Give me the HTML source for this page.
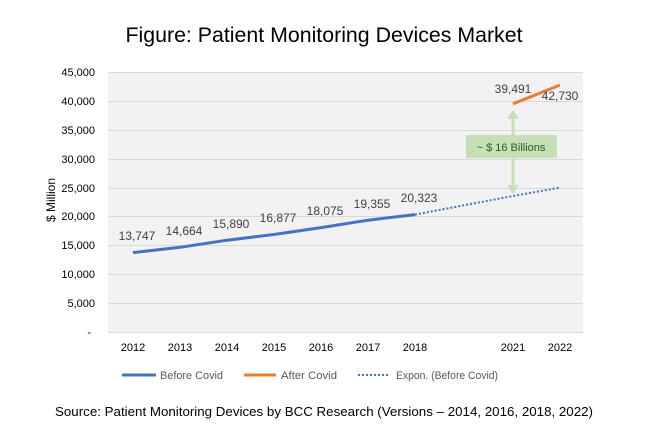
<!DOCTYPE html><html><head><style>body{margin:0;background:#fff}svg text{font-family:"Liberation Sans",Arial,sans-serif}</style></head><body>
<svg width="648" height="431" xmlns="http://www.w3.org/2000/svg">
<text x="324" y="42" font-size="21" text-anchor="middle" fill="#000" textLength="397" lengthAdjust="spacingAndGlyphs">Figure: Patient Monitoring Devices Market</text>
<rect x="108" y="72" width="475" height="260" fill="#f2f2f2"/>
<g stroke="#d9d9d9" stroke-width="1">
<line x1="108" x2="583" y1="72.5" y2="72.5"/><line x1="108" x2="583" y1="101.5" y2="101.5"/><line x1="108" x2="583" y1="130.5" y2="130.5"/><line x1="108" x2="583" y1="159.5" y2="159.5"/><line x1="108" x2="583" y1="188.5" y2="188.5"/><line x1="108" x2="583" y1="216.5" y2="216.5"/><line x1="108" x2="583" y1="245.5" y2="245.5"/><line x1="108" x2="583" y1="274.5" y2="274.5"/><line x1="108" x2="583" y1="303.5" y2="303.5"/><line x1="108" x2="583" y1="332.5" y2="332.5"/>
</g>
<g font-size="11" fill="#000" text-anchor="end">
<text x="95" y="76">45,000</text><text x="95" y="105">40,000</text><text x="95" y="134">35,000</text><text x="95" y="163">30,000</text><text x="95" y="192">25,000</text><text x="95" y="220">20,000</text><text x="95" y="249">15,000</text><text x="95" y="278">10,000</text><text x="95" y="307">5,000</text><text x="91" y="336">-</text>
</g>
<text transform="translate(55,200) rotate(-90)" font-size="12" text-anchor="middle" fill="#000">$ Million</text>
<g font-size="11" fill="#000" text-anchor="middle">
<text x="133" y="351">2012</text><text x="180" y="351">2013</text><text x="227" y="351">2014</text><text x="274" y="351">2015</text><text x="321" y="351">2016</text><text x="368" y="351">2017</text><text x="415" y="351">2018</text><text x="513" y="351">2021</text><text x="560" y="351">2022</text>
</g>
<polyline points="415,214.6 513,196 560,187.6" fill="none" stroke="#4472c4" stroke-width="2" stroke-dasharray="2,2"/>
<polyline points="133,252.6 180,247.3 227,240.2 274,234.5 321,227.6 368,220.2 415,214.6" fill="none" stroke="#4472c4" stroke-width="3"/>
<line x1="513" y1="103.8" x2="560" y2="85.1" stroke="#ed7d31" stroke-width="3"/>
<g fill="#404040" font-size="12" text-anchor="middle">
<text x="137" y="240">13,747</text><text x="184" y="235">14,664</text><text x="231" y="228">15,890</text><text x="278" y="222">16,877</text><text x="325" y="215">18,075</text><text x="372" y="208">19,355</text><text x="419" y="202">20,323</text><text x="513" y="93">39,491</text><text x="560" y="100">42,730</text>
</g>
<g stroke="#c5e0b4" stroke-width="3" fill="#c5e0b4">
<line x1="513" y1="116" x2="513" y2="186"/>
<polygon points="513,110 507,119 519,119" stroke="none"/>
<polygon points="513,194 507,185 519,185" stroke="none"/>
</g>
<rect x="466" y="135" width="91" height="23" fill="#c5e0b4"/>
<text x="511" y="151" font-size="11" text-anchor="middle" fill="#375623">~ $ 16 Billions</text>
<line x1="122" y1="375" x2="156" y2="375" stroke="#4472c4" stroke-width="3"/>
<text x="160" y="379" font-size="11" fill="#595959" textLength="63" lengthAdjust="spacingAndGlyphs">Before Covid</text>
<line x1="244" y1="375" x2="276" y2="375" stroke="#ed7d31" stroke-width="3"/>
<text x="281" y="379" font-size="11" fill="#595959" textLength="56" lengthAdjust="spacingAndGlyphs">After Covid</text>
<line x1="358" y1="375" x2="390" y2="375" stroke="#4472c4" stroke-width="2" stroke-dasharray="2,2"/>
<text x="396" y="379" font-size="11" fill="#595959" textLength="102" lengthAdjust="spacingAndGlyphs">Expon. (Before Covid)</text>
<text x="324" y="416" font-size="13" text-anchor="middle" fill="#000" textLength="538" lengthAdjust="spacingAndGlyphs">Source: Patient Monitoring Devices by BCC Research (Versions – 2014, 2016, 2018, 2022)</text>
</svg></body></html>
